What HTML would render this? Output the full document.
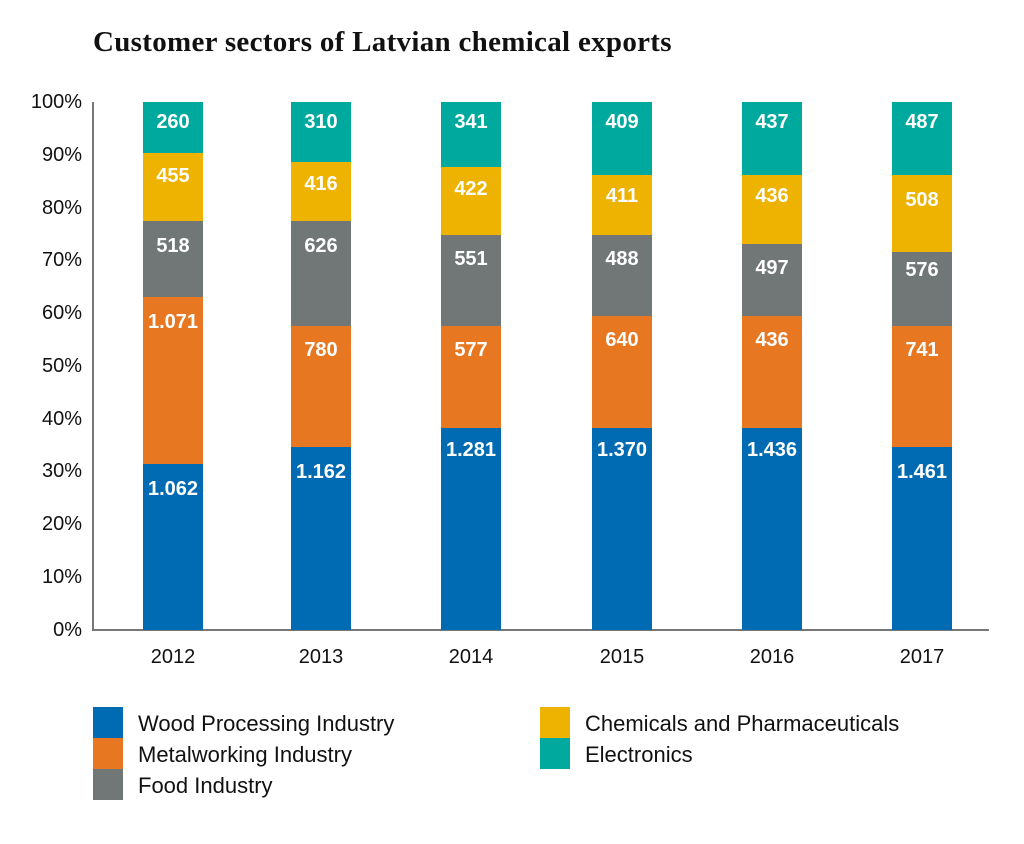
<!DOCTYPE html><html><head><meta charset="utf-8"><style>
body{margin:0;width:1024px;height:844px;background:#fff;position:relative;overflow:hidden;font-family:"Liberation Sans",sans-serif}
.s{position:absolute;width:60px}
.l{position:absolute;width:80px;text-align:center;color:#fff;font-weight:bold;font-size:20px;line-height:24px;margin-top:2px}
.t{position:absolute;left:18px;width:64px;text-align:right;font-size:20px;line-height:22px;color:#111}
.x{position:absolute;width:80px;text-align:center;font-size:20px;top:646px;color:#111}
.sw{position:absolute;width:30px;height:31px}
.lg{position:absolute;font-size:22px;color:#111;line-height:31px}
.b{background:#006bb3}.o{background:#e87722}.g{background:#717677}.y{background:#eeb300}.c{background:#00a99d}
</style></head><body>
<div style="position:absolute;left:93px;top:26px;font-family:'Liberation Serif',serif;font-weight:bold;font-size:29px;letter-spacing:0.3px;color:#111">Customer sectors of Latvian chemical exports</div>
<div style="position:absolute;left:92px;top:102px;width:2px;height:529px;background:#777"></div>
<div style="position:absolute;left:92px;top:629px;width:897px;height:2px;background:#777"></div>
<div class="t" style="top:91px">100%</div><div class="t" style="top:144px">90%</div><div class="t" style="top:197px">80%</div><div class="t" style="top:249px">70%</div><div class="t" style="top:302px">60%</div><div class="t" style="top:355px">50%</div><div class="t" style="top:408px">40%</div><div class="t" style="top:460px">30%</div><div class="t" style="top:513px">20%</div><div class="t" style="top:566px">10%</div><div class="t" style="top:619px">0%</div>

<div class="s c" style="left:143px;top:102px;height:51px"></div><div class="s y" style="left:143px;top:153px;height:68px"></div><div class="s g" style="left:143px;top:221px;height:76px"></div><div class="s o" style="left:143px;top:297px;height:167px"></div><div class="s b" style="left:143px;top:464px;height:166px"></div>
<div class="l" style="left:133px;top:108px">260</div><div class="l" style="left:133px;top:162px">455</div><div class="l" style="left:133px;top:232px">518</div><div class="l" style="left:133px;top:308px">1.071</div><div class="l" style="left:133px;top:475px">1.062</div>

<div class="s c" style="left:291px;top:102px;height:60px"></div><div class="s y" style="left:291px;top:162px;height:59px"></div><div class="s g" style="left:291px;top:221px;height:105px"></div><div class="s o" style="left:291px;top:326px;height:121px"></div><div class="s b" style="left:291px;top:447px;height:183px"></div>
<div class="l" style="left:281px;top:108px">310</div><div class="l" style="left:281px;top:170px">416</div><div class="l" style="left:281px;top:232px">626</div><div class="l" style="left:281px;top:336px">780</div><div class="l" style="left:281px;top:458px">1.162</div>

<div class="s c" style="left:441px;top:102px;height:65px"></div><div class="s y" style="left:441px;top:167px;height:68px"></div><div class="s g" style="left:441px;top:235px;height:91px"></div><div class="s o" style="left:441px;top:326px;height:102px"></div><div class="s b" style="left:441px;top:428px;height:202px"></div>
<div class="l" style="left:431px;top:108px">341</div><div class="l" style="left:431px;top:175px">422</div><div class="l" style="left:431px;top:245px">551</div><div class="l" style="left:431px;top:336px">577</div><div class="l" style="left:431px;top:436px">1.281</div>

<div class="s c" style="left:592px;top:102px;height:73px"></div><div class="s y" style="left:592px;top:175px;height:60px"></div><div class="s g" style="left:592px;top:235px;height:81px"></div><div class="s o" style="left:592px;top:316px;height:112px"></div><div class="s b" style="left:592px;top:428px;height:202px"></div>
<div class="l" style="left:582px;top:108px">409</div><div class="l" style="left:582px;top:182px">411</div><div class="l" style="left:582px;top:245px">488</div><div class="l" style="left:582px;top:326px">640</div><div class="l" style="left:582px;top:436px">1.370</div>

<div class="s c" style="left:742px;top:102px;height:73px"></div><div class="s y" style="left:742px;top:175px;height:69px"></div><div class="s g" style="left:742px;top:244px;height:72px"></div><div class="s o" style="left:742px;top:316px;height:112px"></div><div class="s b" style="left:742px;top:428px;height:202px"></div>
<div class="l" style="left:732px;top:108px">437</div><div class="l" style="left:732px;top:182px">436</div><div class="l" style="left:732px;top:254px">497</div><div class="l" style="left:732px;top:326px">436</div><div class="l" style="left:732px;top:436px">1.436</div>

<div class="s c" style="left:892px;top:102px;height:73px"></div><div class="s y" style="left:892px;top:175px;height:77px"></div><div class="s g" style="left:892px;top:252px;height:74px"></div><div class="s o" style="left:892px;top:326px;height:121px"></div><div class="s b" style="left:892px;top:447px;height:183px"></div>
<div class="l" style="left:882px;top:108px">487</div><div class="l" style="left:882px;top:186px">508</div><div class="l" style="left:882px;top:256px">576</div><div class="l" style="left:882px;top:336px">741</div><div class="l" style="left:882px;top:458px">1.461</div>

<div class="x" style="left:133px">2012</div><div class="x" style="left:281px">2013</div><div class="x" style="left:431px">2014</div><div class="x" style="left:582px">2015</div><div class="x" style="left:732px">2016</div><div class="x" style="left:882px">2017</div>

<div class="sw b" style="left:93px;top:707px"></div><div class="sw o" style="left:93px;top:738px"></div><div class="sw g" style="left:93px;top:769px"></div>
<div class="lg" style="left:138px;top:708px">Wood Processing Industry</div><div class="lg" style="left:138px;top:739px">Metalworking Industry</div><div class="lg" style="left:138px;top:770px">Food Industry</div>
<div class="sw y" style="left:540px;top:707px"></div><div class="sw c" style="left:540px;top:738px"></div>
<div class="lg" style="left:585px;top:708px">Chemicals and Pharmaceuticals</div><div class="lg" style="left:585px;top:739px">Electronics</div>
</body></html>
